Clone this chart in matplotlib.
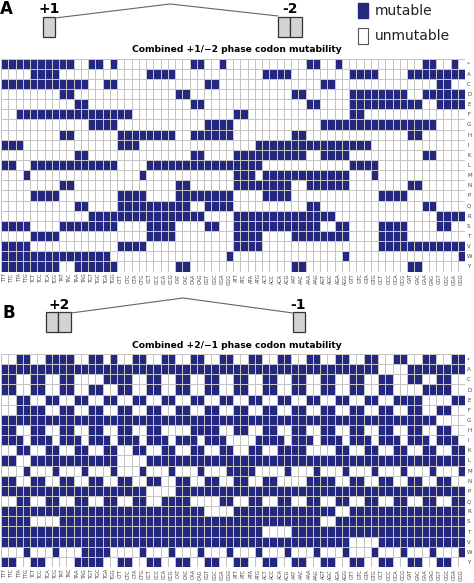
import matplotlib
matplotlib.use("Agg")
import matplotlib.pyplot as plt
from matplotlib.colors import ListedColormap
from matplotlib.patches import Rectangle
import numpy as np

bases = ["T", "C", "A", "G"]
codons = [a + b + c for a in bases for b in bases for c in bases]
amino_acids = ["*", "A", "C", "D", "E", "F", "G", "H", "I", "K", "L", "M",
               "N", "P", "Q", "R", "S", "T", "V", "W", "Y"]

# 1 = mutable, 0 = unmutable ; 64 codons per row (groups of 16 separated by spaces)
phase_12_rows = [
    "1111111111001101 0000000000110010 0000000000110010 0000000000110010",
    "0000111100000000 0000111100000000 0000111100000000 1111000011111111",
    "1111111111110011 0000000000001100 0000000000001100 0000000000001100",
    "0000000011000000 0000000011000000 0000000011000000 1111111100111111",
    "0000000000110000 0000000000110000 0000000000110000 1111111111001111",
    "0011111111111111 1100000000000000 1100000000000000 1100000000000000",
    "0000000000001111 0000000000001111 0000000000001111 1111111111110000",
    "0000000011000000 1111111100111111 0000000011000000 0000000011000000",
    "1110000000000000 1110000000000000 0001111111111111 1110000000000000",
    "0000000000110000 0000000000110000 1111111111001111 0000000000110000",
    "1100111111111111 0000111111111111 1111000000000000 1111000000000000",
    "0001000000000000 0001000000000000 1110111111111111 0001000000000000",
    "0000000011000000 0000000011000000 1111111100111111 0000000011000000",
    "0000111100000000 1111000011111111 0000111100000000 0000111100000000",
    "0000000000110000 1111111111001111 0000000000110000 0000000000110000",
    "0000000000001111 1111111111110000 1111111111111100 0000000000001111",
    "1111000011111111 0000111100001100 1111111111110011 0000111100001100",
    "0000111100000000 0000111100000000 1111000011111111 0000111100000000",
    "1111000000000000 1111000000000000 1111000000000000 0000111111111111",
    "1111111111111110 0000000000000001 0000000000000001 0000000000000001",
    "1111111100111111 0000000011000000 0000000011000000 0000000011000000",
]

phase_21_rows = [
    "0011001111001101 0011001100110011 0011001100110011 0011001100110011",
    "1111111111111111 1111111111111111 1111111111111111 1111000011111111",
    "1100110011000011 1100110011001100 1100110011001100 1100110011001100",
    "1100110011001100 1100110011001100 1100110011001100 1100110000111100",
    "0011001100110011 0011001100110011 0011001100110011 0011001111000011",
    "0011110011001100 1100110011001100 1100110011001100 1100110011001100",
    "1111111111111111 1111111111111111 1111111111111111 1111111111110000",
    "1100110011001100 1100110000111100 1100110011001100 1100110011001100",
    "1110111011101110 1110111011101110 0001111011101110 1110111011101110",
    "0011001100110011 0011001100110011 0011001111000011 0011001100110011",
    "1100111111111111 0000111111111111 1111111111111111 1111111111111111",
    "0001000100010001 0001000100010001 1110000100010001 0001000100010001",
    "1100110011001100 1100110011001100 1100110000111100 1100110011001100",
    "1111111111111111 1111000011111111 1111111111111111 1111111111111111",
    "0011001100110011 0011001111000011 0011001100110011 0011001100110011",
    "1111111111111111 1111111111110000 1111111111111100 1111111111111111",
    "1111000011111111 1111111111111111 1111111111110011 1111111111111111",
    "1111111111111111 1111111111111111 1111000011111111 1111111111111111",
    "1111111111111111 1111111111111111 1111111111111111 0000111111111111",
    "0001000100011110 0001000100010001 0001000100010001 0001000100010001",
    "1100110000111100 1100110011001100 1100110011001100 1100110011001100",
]

NAVY = "#25287f"
GRID = "#c4c4c4"
W, H = 474, 583

def to_matrix(rows):
    return np.array([[int(ch) for ch in r.replace(" ", "")] for r in rows])

fig = plt.figure(figsize=(W / 100, H / 100), dpi=100)
cmap = ListedColormap(["white", NAVY])

def heat(top_px, bottom_px, rows):
    ax = fig.add_axes([1 / W, 1 - bottom_px / H, 464 / W, (bottom_px - top_px) / H])
    M = to_matrix(rows)
    ax.pcolormesh(M, cmap=cmap, vmin=0, vmax=1, edgecolors=GRID, linewidth=0.4)
    ax.set_xlim(0, 64)
    ax.set_ylim(21, 0)
    ax.set_xticks(np.arange(64) + 0.5)
    ax.set_xticklabels(codons, rotation=90, fontsize=3.6, color="#444444")
    ax.set_yticks(np.arange(21) + 0.5)
    ax.set_yticklabels(amino_acids, fontsize=4, color="#444444")
    ax.yaxis.tick_right()
    ax.tick_params(length=0, pad=1.5)
    for s in ax.spines.values():
        s.set_visible(False)
    return ax

heat(58.5, 271.5, phase_12_rows)
heat(354, 567, phase_21_rows)

# overlay in pixel coordinates
ov = fig.add_axes([0, 0, 1, 1])
ov.set_xlim(0, W)
ov.set_ylim(H, 0)
ov.axis("off")

def box(x, y, w, h):
    ov.add_patch(Rectangle((x, y), w, h, facecolor="#d3d3d3", edgecolor="#333333", lw=0.9))

# Panel A diagram
ov.text(0, 9, "A", fontsize=12, fontweight="bold", va="center", ha="left")
ov.plot([55, 170, 278], [18, 4, 16], color="#666666", lw=0.8)
box(43, 17, 12, 20)
box(278, 17, 12, 20)
box(290, 17, 12, 20)
ov.text(49, 9, "+1", fontsize=10, fontweight="bold", ha="center", va="center")
ov.text(290, 9, "-2", fontsize=10, fontweight="bold", ha="center", va="center")
ov.text(237, 50, "Combined +1/\u22122 phase codon mutability", fontsize=6.6,
        fontweight="bold", ha="center", va="center")

# legend
ov.add_patch(Rectangle((358, 3), 10, 15, facecolor=NAVY, edgecolor=NAVY))
ov.add_patch(Rectangle((358, 28), 10, 16, facecolor="white", edgecolor="#555555", lw=0.8))
ov.text(375, 11, "mutable", fontsize=10, ha="left", va="center", color="#222222")
ov.text(375, 36, "unmutable", fontsize=10, ha="left", va="center", color="#222222")

# Panel B diagram
ov.text(2, 313, "B", fontsize=12, fontweight="bold", va="center", ha="left")
ov.plot([71, 183, 293], [313, 298, 313], color="#666666", lw=0.8)
box(46, 312, 12.5, 20)
box(58.5, 312, 12.5, 20)
box(293, 312, 12, 20)
ov.text(59, 305, "+2", fontsize=10, fontweight="bold", ha="center", va="center")
ov.text(298, 305, "-1", fontsize=10, fontweight="bold", ha="center", va="center")
ov.text(237, 346, "Combined +2/\u22121 phase codon mutability", fontsize=6.6,
        fontweight="bold", ha="center", va="center")

fig.savefig("out.png", dpi=100)
